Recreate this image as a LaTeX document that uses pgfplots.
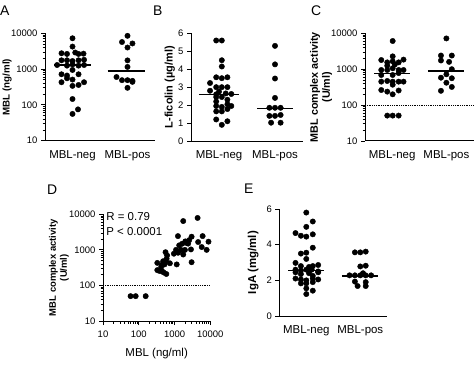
\documentclass[border=0pt]{standalone}
\usepackage{fontspec}
\setmainfont{Liberation Sans}
\usepackage{pgfplots}
\pgfplotsset{compat=1.18}
\pgfplotsset{
  panel/.style={
    scale only axis,
    anchor=south west,
    axis lines=left,
    axis line style={-, line width=1bp},
    tick align=outside,
    major tick length=4bp,
    minor tick length=2.5bp,
    every tick/.style={line width=0.8bp, black},
    /pgf/number format/assume math mode=true,
    tick label style={font=\fontsize{9.5}{10}\selectfont},
    clip=false,
  },
  cat/.style={
    xmin=-0.5, xmax=1.5,
    xtick={0,1}, xticklabels={MBL-neg,MBL-pos},
    xtick style={draw=none},
    xticklabel style={font=\fontsize{11.5}{12}\selectfont, yshift=-2.5bp},
  },
  dots/.style={only marks, mark=*, mark size=2.7bp, black},
  med/.style={black, line width=1.2bp, no marks},
}
\begin{document}
\begin{tikzpicture}[x=1bp,y=1bp]
\path[use as bounding box] (0,0) rectangle (474,370);
\node[anchor=base west, inner sep=0, font=\fontsize{14}{14}\selectfont] at (0,355) {A};
\node[anchor=base west, inner sep=0, font=\fontsize{14}{14}\selectfont] at (153,355) {B};
\node[anchor=base west, inner sep=0, font=\fontsize{14}{14}\selectfont] at (311,355) {C};
\node[anchor=base west, inner sep=0, font=\fontsize{14}{14}\selectfont] at (47,176) {D};
\node[anchor=base west, inner sep=0, font=\fontsize{14}{14}\selectfont] at (244,177) {E};

% Panel A
\begin{axis}[panel, cat, at={(45bp,229.3bp)}, width=110bp, height=107.4bp,
  ymode=log, ymin=10, ymax=10000, ytick={10,100,1000,10000}, yticklabels={10,100,1000,10000},
  ylabel={MBL (ng/ml)},
  ylabel style={at={(axis description cs:-0.345,0.5)}, anchor=center, font=\bfseries\fontsize{9.8}{11}\selectfont}]
\addplot[dots] coordinates {
(0,7260)(0,4250)
(-0.2,2770)(-0.1,2650)(0.05,2900)(0.11,2650)(0.2,2700)
(-0.2,1760)(-0.1,1760)(0,1680)(0.11,1760)(0.21,1820)
(-0.28,1300)(-0.1,1250)(0,1350)(0.11,1250)(0.21,1300)
(0,946)
(-0.2,716)(-0.1,660)(0.11,716)
(-0.1,553)(0,510)
(-0.2,430)(0,340)(0.11,360)(0.21,430)
(0,146)(0.1,75)(0,56)
};
\addplot[dots] coordinates {
(1,8500)(0.9,5700)(1.09,5200)(1,4000)(1,1750)(1,1150)(0.8,600)(0.9,490)(1,490)(1.09,470)(1.09,440)(1,300)
};
\addplot[med] coordinates {(-0.33,1300) (0.34,1300)};
\addplot[med] coordinates {(0.64,887) (1.31,887)};
\end{axis}

% Panel B
\begin{axis}[panel, cat, at={(191bp,229bp)}, width=112bp, height=107.7bp,
  ymin=0, ymax=6, ytick={0,1,2,3,4,5,6},
  ylabel={L-ficolin (µg/ml)},
  ylabel style={at={(axis description cs:-0.19,0.5)}, anchor=center, font=\bfseries\fontsize{11}{12}\selectfont}]
\addplot[dots] coordinates {
(-0.05,5.6)(0.05,5.6)
(0.05,4.5)(0.05,4.15)
(-0.05,3.55)(0.05,3.5)(0.15,3.55)
(-0.16,3.23)
(-0.05,3.0)(0.05,3.0)(0.15,3.0)
(-0.16,2.8)(0.0,2.75)(0.12,2.65)
(-0.05,2.6)(0.22,2.62)
(-0.05,2.45)(0.05,2.45)(0.15,2.3)
(-0.05,2.2)(0.15,2.05)
(-0.05,1.95)(0.05,1.9)(0.22,1.95)
(-0.05,1.65)(0.05,1.65)(0.15,1.78)
(-0.05,1.2)(0.15,1.1)
(0.05,0.9)
};
\addplot[dots] coordinates {
(1,5.3)(1,4.27)(1,3.48)(1,2.4)(0.9,1.85)(1,1.85)(1.1,1.85)(0.9,1.4)(1,1.4)(1.1,1.45)(0.93,1.02)(1.1,1.02)
};
\addplot[med] coordinates {(-0.35,2.6) (0.35,2.6)};
\addplot[med] coordinates {(0.68,1.82) (1.32,1.82)};
\end{axis}

% Panel C
\begin{axis}[panel, cat, at={(365bp,229bp)}, width=108.5bp, height=107.7bp,
  ymode=log, ymin=10, ymax=10000, ytick={10,100,1000,10000}, yticklabels={10,100,1000,10000},
  ylabel={MBL complex activity\\(U/ml)},
  ylabel style={at={(axis description cs:-0.405,0.5)}, anchor=center, align=center, font=\bfseries\fontsize{10.8}{12}\selectfont}]
\addplot[black, densely dotted, line width=0.8bp, no marks] coordinates {(-0.5,100) (1.5,100)};
\addplot[dots] coordinates {
(0.01,6100)
(0.01,2280)
(-0.2,1800)(-0.09,1550)(0.01,1650)(0.12,1550)(0.21,1850)
(-0.09,1250)(0.05,1350)
(-0.2,950)(-0.09,950)(0.01,1060)(0.12,950)(0.21,950)
(-0.2,690)(0.01,690)(0.12,780)
(-0.2,450)(-0.09,470)(0.01,450)(0.12,450)(0.21,450)
(0.01,370)
(-0.2,263)(-0.09,237)(0.01,200)(0.12,255)
(-0.09,51)(0.01,51)(0.12,51)
};
\addplot[dots] coordinates {
(1,7200)(0.9,2400)(1.1,2400)(0.9,1750)(1.05,1600)(1.1,1000)(1,720)(0.9,580)(1.1,560)(1,420)(1.1,320)(0.9,250)
};
\addplot[med] coordinates {(-0.33,751) (0.33,751)};
\addplot[med] coordinates {(0.66,890) (1.33,890)};
\end{axis}

% Panel D
\begin{axis}[panel, at={(103bp,49bp)}, width=107.3bp, height=106.7bp,
  xmode=log, xmin=10, xmax=10000, xtick={10,100,1000,10000}, xticklabels={10,100,1000,10000},
  xticklabel style={yshift=-2bp},
  ymode=log, ymin=10, ymax=10000, ytick={10,100,1000,10000}, yticklabels={10,100,1000,10000},
  xlabel={MBL (ng/ml)},
  xlabel style={font=\fontsize{11.5}{12}\selectfont, yshift=-4bp},
  ylabel={MBL complex activity\\(U/ml)},
  ylabel style={at={(axis description cs:-0.41,0.5)}, anchor=center, align=center, font=\bfseries\fontsize{9.5}{11}\selectfont}]
\addplot[black, densely dotted, line width=0.8bp, no marks] coordinates {(10,100) (10000,100)};
\addplot[dots] coordinates {
(59,50)(82,50)(156,50)
(330,430)(330,270)(380,255)(410,280)(450,250)(500,230)(590,210)(425,335)(525,390)
(440,380)(480,480)(560,470)(600,560)(620,700)(560,860)(740,420)(960,780)(1150,390)
(1260,830)(1750,740)(1350,1340)(1640,1490)(2000,1730)(2570,1880)(2880,1030)(3000,2350)
(1245,2440)(1950,1000)(1500,1000)(3000,450)(4570,1660)(5750,1200)(7900,1000)(8900,1700)
(6100,2440)(1750,6460)(4410,7900)(2200,1550)(2400,1500)(1100,1000)
};
\node[anchor=west, inner sep=0, font=\fontsize{11.5}{12}\selectfont] at (axis description cs:0.03,0.977) {R = 0.79};
\node[anchor=west, inner sep=0, font=\fontsize{11.5}{12}\selectfont] at (axis description cs:0.03,0.837) {P < 0.0001};
\end{axis}

% Panel E
\begin{axis}[panel, cat, at={(279.3bp,54bp)}, width=108bp, height=107bp,
  ymin=0, ymax=6, ytick={0,2,4,6},
  ylabel={IgA (mg/ml)},
  ylabel style={at={(axis description cs:-0.243,0.5)}, anchor=center, font=\bfseries\fontsize{11.5}{12}\selectfont}]
\addplot[dots] coordinates {
(0,5.8)(0.12,5.3)(0,5.0)(-0.2,4.65)(-0.1,4.5)(0,4.45)(0.12,4.58)(0.12,3.83)(-0.1,3.5)(0,3.55)(0,3.2)
(-0.2,2.98)(-0.1,2.8)(0.05,2.75)(0.12,2.8)(0.22,2.86)
(-0.2,2.6)(-0.1,2.55)(0,2.6)(0.1,2.6)(0.22,2.5)
(-0.2,2.45)(-0.1,2.35)(0.05,2.4)(0.12,2.25)(0.22,2.45)
(-0.2,2.1)(-0.1,2.05)(0,2.0)(0.12,2.1)(0.22,2.05)
(-0.1,1.83)(0,1.83)(0.12,1.9)(0,1.55)(0.12,1.42)(0,1.23)
};
\addplot[dots] coordinates {
(0.9,3.57)(1,3.57)(1.1,3.61)(1,2.78)(1.1,2.82)(0.8,2.28)(0.9,2.28)(1,2.28)(1.1,2.28)(1.2,2.28)(1.05,2.4)(0.9,1.93)(1.1,1.9)(0.95,1.68)(1.1,1.68)
};
\addplot[med] coordinates {(-0.33,2.54) (0.33,2.54)};
\addplot[med] coordinates {(0.66,2.24) (1.33,2.24)};
\end{axis}
\end{tikzpicture}
\end{document}
